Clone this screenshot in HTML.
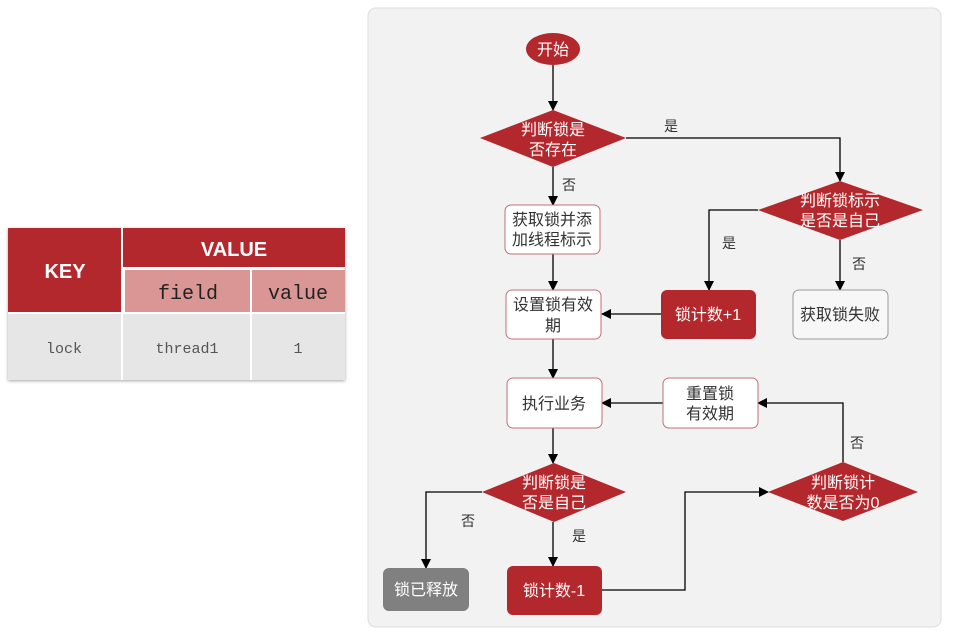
<!DOCTYPE html>
<html><head><meta charset="utf-8"><style>
body{margin:0;width:953px;height:635px;background:#fff;overflow:hidden;font-family:"Liberation Sans","Noto Sans CJK SC",sans-serif}
</style></head><body>
<svg width="953" height="635" xmlns="http://www.w3.org/2000/svg" font-family="'Liberation Sans','Noto Sans CJK SC',sans-serif">
<defs><marker id="a" markerWidth="10" markerHeight="10" refX="9" refY="5" orient="auto" markerUnits="userSpaceOnUse"><path d="M0,0 L10,5 L0,10 z" fill="#000"/></marker>
<filter id="sh"><feDropShadow dx="0" dy="1" stdDeviation="1.5" flood-opacity="0.35"/></filter></defs>
<!-- table -->
<g filter="url(#sh)"><rect x="8" y="228" width="337" height="152" fill="#fff"/></g>
<rect x="8" y="228" width="113" height="84" fill="#b3282d"/>
<rect x="123" y="228" width="222" height="39" fill="#b3282d"/>
<rect x="125" y="270" width="125" height="42" fill="#d99694"/>
<rect x="252" y="270" width="93" height="42" fill="#d99694"/>
<rect x="8" y="314" width="113" height="66" fill="#e6e6e6"/>
<rect x="123" y="314" width="127" height="66" fill="#e6e6e6"/>
<rect x="252" y="314" width="93" height="66" fill="#e6e6e6"/>
<g font-weight="bold" fill="#fff" font-size="20" text-anchor="middle"><text x="65" y="278">KEY</text><text x="234" y="256">VALUE</text></g>
<g font-family="'Liberation Mono',monospace" text-anchor="middle"><text x="188" y="299" font-size="20" fill="#222">field</text><text x="298" y="299" font-size="20" fill="#222">value</text>
<text x="64" y="353" font-size="15" fill="#555">lock</text><text x="187" y="353" font-size="15" fill="#555">thread1</text><text x="298" y="353" font-size="15" fill="#555">1</text></g>
<!-- panel -->
<rect x="368" y="8" width="573" height="619" rx="8" fill="#f2f2f2" stroke="#ddd"/>
<g stroke="#000" stroke-width="1.3" fill="none" marker-end="url(#a)">
<path d="M553,65 V110"/><path d="M553,167 V205"/><path d="M626,138 H840 V181"/>
<path d="M758,210 H709 V290"/><path d="M840,240 V290"/><path d="M661,314 H602"/>
<path d="M553,254 V290"/><path d="M553,339 V378"/><path d="M663,403 H602"/>
<path d="M843,462 V403 H758"/><path d="M553,428 V463"/><path d="M482,492 H426 V568"/>
<path d="M553,522 V566"/><path d="M602,590 H685 V492 H768"/>
</g>
<g fill="#b3282d">
<ellipse cx="553" cy="49" rx="27" ry="16"/>
<path d="M480,138 L553,110 L626,138 L553,167 z"/>
<path d="M758,210 L840,181 L923,210 L840,240 z"/>
<path d="M482,492 L554,463 L626,492 L554,522 z"/>
<path d="M768,492 L843,462 L918,492 L843,521 z"/>
<rect x="661" y="290" width="95" height="49" rx="6"/>
<rect x="507" y="566" width="95" height="49" rx="6"/>
</g>
<rect x="383" y="568" width="86" height="43" rx="6" fill="#808080"/>
<g fill="#fff" stroke="#c07078" stroke-width="1">
<rect x="505" y="205" width="95" height="49" rx="6"/>
<rect x="506" y="290" width="95" height="49" rx="6"/>
<rect x="507" y="378" width="95" height="50" rx="6"/>
<rect x="663" y="378" width="95" height="50" rx="6"/>
</g>
<rect x="793" y="290" width="95" height="49" rx="6" fill="#f7f7f7" stroke="#999"/>
<g font-size="16" text-anchor="middle" fill="#fff">
<text x="553" y="55">开始</text>
<text x="553" y="135">判断锁是</text><text x="553" y="155">否存在</text>
<text x="840" y="206">判断锁标示</text><text x="840" y="226">是否是自己</text>
<text x="554" y="488">判断锁是</text><text x="554" y="508">否是自己</text>
<text x="843" y="488">判断锁计</text><text x="843" y="508">数是否为0</text>
<text x="708" y="320">锁计数+1</text><text x="554" y="596">锁计数-1</text>
<text x="426" y="595">锁已释放</text>
</g>
<g font-size="16" text-anchor="middle" fill="#333">
<text x="552" y="225">获取锁并添</text><text x="552" y="245">加线程标示</text>
<text x="553" y="310">设置锁有效</text><text x="553" y="331">期</text>
<text x="554" y="409">执行业务</text>
<text x="710" y="399">重置锁</text><text x="710" y="419">有效期</text>
<text x="840" y="320">获取锁失败</text>
</g>
<g font-size="14" text-anchor="middle" fill="#333">
<text x="671" y="131">是</text><text x="569" y="190">否</text><text x="729" y="248">是</text>
<text x="859" y="269">否</text><text x="857" y="448">否</text><text x="468" y="526">否</text><text x="579" y="541">是</text>
</g>
</svg>
</body></html>
